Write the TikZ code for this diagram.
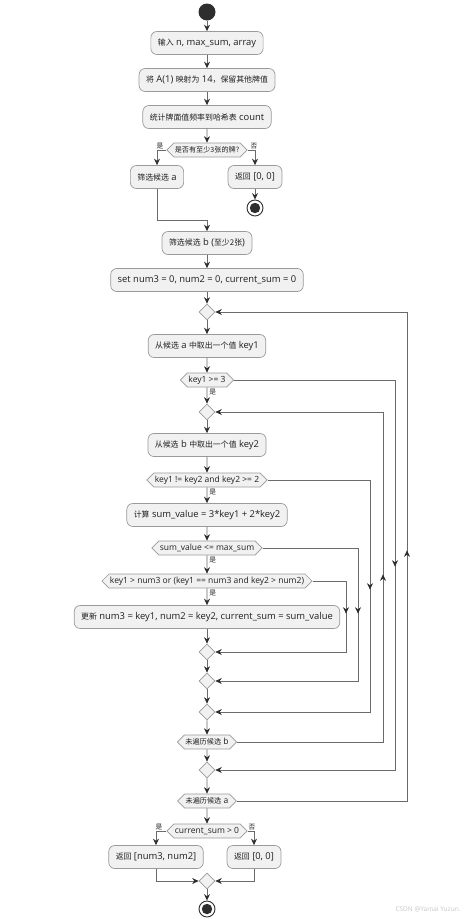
\documentclass[tikz,border=0pt]{standalone}
\usepackage{fontspec}
\setmainfont{Open Sans}
\newfontfamily\zhfont[Scale=0.84]{Noto Sans CJK SC}
\newcommand\zh[1]{{\zhfont #1}}
\usepackage{xcolor}
\usepackage{tikz}
\usetikzlibrary{arrows.meta}
\usetikzlibrary{shapes.geometric}
\usetikzlibrary{shapes.symbols}
\usetikzlibrary{decorations.markings}
\definecolor{boxfill}{HTML}{F1F1F1}
\definecolor{boxline}{HTML}{9A9A9A}
\definecolor{flowline}{HTML}{6A6A6A}
\definecolor{tipcolor}{HTML}{2E2E2E}
\definecolor{textcolor}{HTML}{202020}
\tikzstyle{flowhead}=[>/.tip={Stealth[length=6.5pt,width=6pt,inset=2.2pt,color=tipcolor]}]
\tikzstyle{flow}=[line width=.8pt,draw=flowline,flowhead,->]
\tikzstyle{act}=[draw=boxline,fill=boxfill,line width=.7pt,rounded corners=6pt,minimum height=23pt,inner xsep=7pt,font=\fontsize{9.4}{11}\selectfont,text=textcolor]
\tikzstyle{cond}=[draw=boxline,fill=boxfill,line width=.7pt,shape=signal,signal to=west and east,minimum height=14pt,inner xsep=1pt,inner ysep=1.5pt,font=\fontsize{8.5}{9}\selectfont,text=textcolor]
\tikzstyle{merge}=[draw=boxline,fill=boxfill,line width=.7pt,shape=diamond,minimum size=16pt,inner sep=0pt]
\tikzstyle{yes}=[font=\fontsize{8}{8}\selectfont\zhfont,text=textcolor,inner sep=1pt]
\tikzstyle{startdot}=[circle,fill=tipcolor,minimum size=17pt,inner sep=0pt]
\tikzstyle{stopdot}=[circle,draw=tipcolor,fill=white,line width=.9pt,minimum size=16pt,inner sep=0pt]
\tikzset{midtip/.style={postaction={decorate},decoration={markings,mark=at position #1 with {\arrow{>}}}}}

\begin{document}
\begin{tikzpicture}[x=1pt,y=-1pt]
	\useasboundingbox (0,0) rectangle (474,919);
	% setup
	\node[startdot] (start) at (207,12) {};
	\node[act] (in)    at (207,43)  {\zh{输入} n, max\_sum, array};
	\node[act] (map)   at (207,80)  {\zh{将} A(1) \zh{映射为} 14\zh{，保留其他牌值}};
	\node[act] (cnt)   at (207,117) {\zh{统计牌面值频率到哈希表} count};
	\node[cond] (has3) at (207,150) {\zh{是否有至少3张的牌?}};
	\node[act] (canda) at (157,177) {\zh{筛选候选} a};
	\node[act] (ret0)  at (255,177) {\zh{返回} [0, 0]};
	\node[stopdot] (stop1) at (255,208) {};
	\fill[tipcolor] (stop1) circle (5.2pt);
	\coordinate (joinab) at (207,220);
	\node[act] (candb) at (207,243) {\zh{筛选候选} b (\zh{至少2张})};
	\node[act] (init)  at (207,280) {set num3 = 0, num2 = 0, current\_sum = 0};
	% outer loop over a
	\node[merge] (m1)  at (207,312) {};
	\node[act] (key1)  at (207,346) {\zh{从候选} a \zh{中取出一个值} key1};
	\node[cond] (ge3)  at (207,380) {key1 >= 3};
	% inner loop over b
	\node[merge] (m2)  at (207,412) {};
	\node[act] (key2)  at (207,445) {\zh{从候选} b \zh{中取出一个值} key2};
	\node[cond] (diff) at (207,480) {key1 != key2 and key2 >= 2};
	\node[act] (calc)  at (207,515) {\zh{计算} sum\_value = 3*key1 + 2*key2};
	\node[cond] (fits) at (207,548) {sum\_value <= max\_sum};
	\node[cond] (better) at (207,581) {key1 > num3 or (key1 == num3 and key2 > num2)};
	\node[act] (upd)   at (207,617) {\zh{更新} num3 = key1, num2 = key2, current\_sum = sum\_value};
	\node[merge] (m3)  at (207,652) {};
	\node[merge] (m4)  at (207,681) {};
	\node[merge] (m5)  at (207,712) {};
	\node[cond] (moreb) at (207,742) {\zh{未遍历候选} b};
	\node[merge] (m6)  at (207,770) {};
	\node[cond] (morea) at (207,801) {\zh{未遍历候选} a};
	% result
	\node[cond] (found) at (207,831) {current\_sum > 0};
	\node[act] (retn)  at (156,857) {\zh{返回} [num3, num2]};
	\node[act] (retz)  at (254,857) {\zh{返回} [0, 0]};
	\node[merge] (m7)  at (207,881) {};
	\node[stopdot] (stop2) at (207,909) {};
	\fill[tipcolor] (stop2) circle (5.2pt);
	\node[font=\fontsize{6.5}{7}\selectfont,text=gray!45] (credit) at (428,909) {CSDN @Yamai Yuzun.};
	% loop columns
	\coordinate (colA) at (407,312);
	\coordinate (colB) at (395,770);
	\coordinate (colC) at (383,412);
	\coordinate (colD) at (370,712);
	\coordinate (colE) at (358,681);
	\coordinate (colF) at (346,652);

	\draw[flow] (start) -- (in);
	\draw[flow] (in) -- (map);
	\draw[flow] (map) -- (cnt);
	\draw[flow] (cnt) -- (has3);
	\draw[flow] (has3.west) -| node[yes,pos=.5,anchor=south,xshift=3pt]{是} (canda);
	\draw[flow] (has3.east) -| node[yes,pos=.5,anchor=south,xshift=-1pt]{否} (ret0);
	\draw[flow] (ret0) -- (stop1);
	\draw[flow] (canda) |- (joinab) -- (candb);
	\draw[flow] (candb) -- (init);
	\draw[flow] (init) -- (m1);
	\draw[flow] (m1) -- (key1);
	\draw[flow] (key1) -- (ge3);
	\draw[flow] (ge3) -- node[yes,pos=0,anchor=north west,xshift=1pt]{是} (m2);
	\draw[flow] (m2) -- (key2);
	\draw[flow] (key2) -- (diff);
	\draw[flow] (diff) -- node[yes,pos=0,anchor=north west,xshift=1pt]{是} (calc);
	\draw[flow] (calc) -- (fits);
	\draw[flow] (fits) -- node[yes,pos=0,anchor=north west,xshift=1pt]{是} (better);
	\draw[flow] (better) -- node[yes,pos=0,anchor=north west,xshift=1pt]{是} (upd);
	\draw[flow] (upd) -- (m3);
	\draw[flow] (m3) -- (m4);
	\draw[flow] (m4) -- (m5);
	\draw[flow] (m5) -- (moreb);
	\draw[flow] (moreb) -- (m6);
	\draw[flow] (m6) -- (morea);
	\draw[flow] (morea) -- (found);
	% back edges and skips
	\draw[flow,midtip=-430pt] (morea.east) -| (colA) -- (m1.east);
	\draw[flow,midtip=-383pt] (ge3.east) -| (colB) -- (m6.east);
	\draw[flow,midtip=-330pt] (moreb.east) -| (colC) -- (m2.east);
	\draw[flow,midtip=-277pt] (diff.east) -| (colD) -- (m5.east);
	\draw[flow,midtip=-210pt] (fits.east) -| (colE) -- (m4.east);
	\draw[flow,midtip=-169pt] (better.east) -| (colF) -- (m3.east);
	% result branches
	\draw[flow] (found.west) -| node[yes,pos=.5,anchor=south,xshift=3pt]{是} (retn);
	\draw[flow] (found.east) -| node[yes,pos=.5,anchor=south,xshift=-2pt]{否} (retz);
	\draw[flow] (retn) |- (m7);
	\draw[flow] (retz) |- (m7);
	\draw[flow] (m7) -- (stop2);
\end{tikzpicture}
\end{document}
